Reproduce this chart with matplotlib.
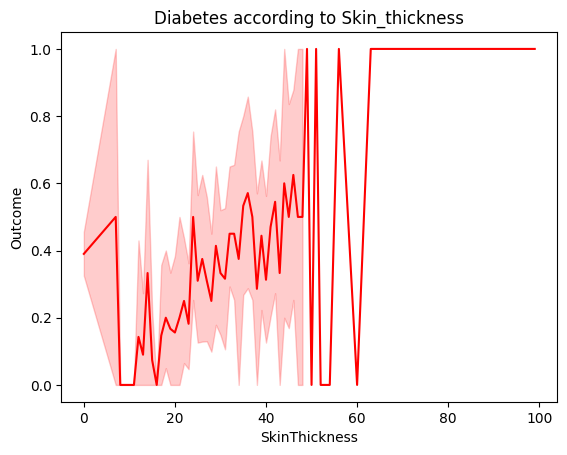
import numpy as np
import matplotlib
matplotlib.use("Agg")
import matplotlib.pyplot as plt

# mean Outcome per SkinThickness value, with the bootstrap CI
skin = [0, 7, 8, 10, 11, 12, 13, 14, 15, 16, 17, 18, 19, 20, 21, 22, 23, 24, 25,
        26, 27, 28, 29, 30, 31, 32, 33, 34, 35, 36, 37, 38, 39, 40, 41, 42, 43,
        44, 45, 46, 47, 48, 49, 50, 51, 52, 54, 56, 60, 63, 99]

outcome = [0.39, 0.50, 0.0, 0.0, 0.0, 0.143, 0.09, 0.333, 0.074, 0.0, 0.147,
           0.20, 0.167, 0.156, 0.20, 0.25, 0.182, 0.50, 0.31, 0.375, 0.31,
           0.25, 0.414, 0.333, 0.316, 0.45, 0.45, 0.375, 0.533, 0.571, 0.50,
           0.286, 0.444, 0.313, 0.47, 0.545, 0.333, 0.60, 0.50, 0.625, 0.50,
           0.50, 1.0, 0.0, 1.0, 0.0, 0.0, 1.0, 0.0, 1.0, 1.0]

nan = np.nan
ci_low = [0.325, 0.0, 0.0, 0.0, 0.0, 0.0, 0.0, 0.0, 0.0, 0.0, 0.0, 0.05, 0.0,
          0.0, 0.0, 0.065, 0.047, 0.253, 0.126, 0.129, 0.13, 0.099, 0.179,
          0.149, 0.106, 0.293, 0.253, 0.0, 0.268, 0.288, 0.253, 0.0, 0.223,
          0.126, 0.203, 0.273, 0.0, 0.20, 0.169, 0.253, 0.0, 0.0,
          nan, nan, nan, nan, nan, nan, nan, nan, nan]

ci_high = [0.456, 1.0, 0.0, 0.0, 0.0, 0.43, 0.273, 0.67, 0.22, 0.0, 0.357,
           0.40, 0.334, 0.384, 0.50, 0.437, 0.362, 0.754, 0.565, 0.625, 0.56,
           0.45, 0.65, 0.52, 0.526, 0.65, 0.655, 0.754, 0.80, 0.858, 0.754,
           0.57, 0.668, 0.5625, 0.74, 0.82, 0.668, 1.0, 0.836, 0.878, 1.0, 1.0,
           nan, nan, nan, nan, nan, nan, nan, nan, nan]

fig, ax = plt.subplots(figsize=(6.4, 4.8))
ax.fill_between(skin, ci_low, ci_high, color="red", alpha=0.2)
ax.plot(skin, outcome, color="red", linewidth=1.5)

ax.set_title("Diabetes according to Skin_thickness")
ax.set_xlabel("SkinThickness")
ax.set_ylabel("Outcome")

fig.savefig("out.png", dpi=100, bbox_inches="tight")
